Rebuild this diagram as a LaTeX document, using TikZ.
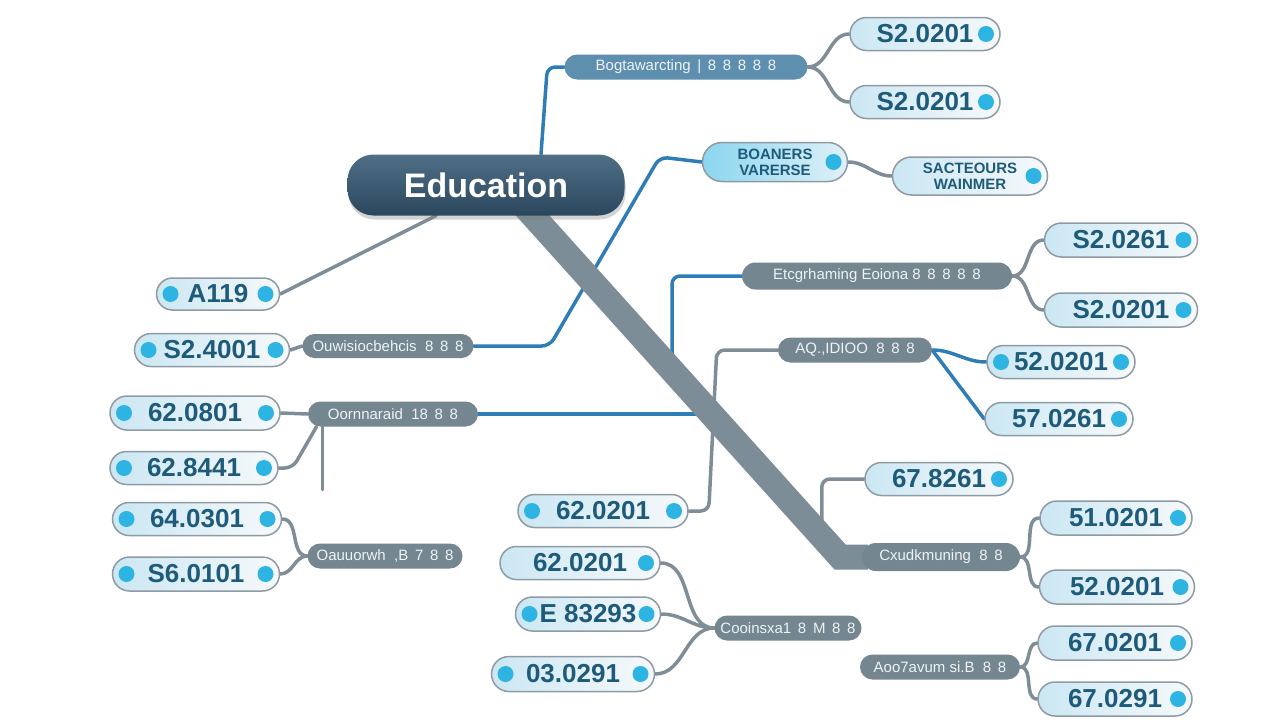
\documentclass[tikz,border=0pt]{standalone}
\usepackage{fontspec}
\setmainfont{Liberation Sans}
\usetikzlibrary{shapes.misc,shadows,backgrounds}
\definecolor{hubtop}{HTML}{4F6F86}
\definecolor{hubbot}{HTML}{2B475D}
\definecolor{twigc}{HTML}{74868F}
\definecolor{twigb}{HTML}{5E8FAF}
\definecolor{twigtext}{HTML}{EEF3F6}
\definecolor{leafl}{HTML}{CBE7F3}
\definecolor{leafr}{HTML}{F6F9FB}
\definecolor{leafedge}{HTML}{8E9BA4}
\definecolor{leaftext}{HTML}{1E5B7B}
\definecolor{dotc}{HTML}{2DB4E2}
\definecolor{linec}{HTML}{7F8D96}
\definecolor{bluec}{HTML}{2F7DB6}
\definecolor{barc}{HTML}{7C8D97}
\newcommand{\rdot}{\fill[dotc] ([xshift=-14pt]path picture bounding box.east) circle (8pt);}
\newcommand{\ldot}{\fill[dotc] ([xshift=14pt]path picture bounding box.west) circle (8pt);}

\begin{document}
\begin{tikzpicture}[x=1pt,y=-1pt,
  hub/.style={rounded corners=26pt,top color=hubtop,bottom color=hubbot,text=white,
    font=\fontsize{34}{34}\selectfont\bfseries,minimum width=277pt,minimum height=61pt,
    drop shadow={shadow xshift=1pt,shadow yshift=-4pt,opacity=.35}},
  twig/.style={rounded rectangle,fill=twigc,text=twigtext,font=\fontsize{15}{15}\selectfont,
    minimum height=25pt,inner sep=0pt},
  leaf/.style={rounded rectangle,draw=leafedge,line width=1.5pt,left color=leafl,right color=leafr,
    text=leaftext,font=\fontsize{26}{26}\selectfont\bfseries,minimum height=33pt,inner sep=0pt,
    path picture={\rdot}},
  leafb/.style={leaf,path picture={\rdot\ldot}},
  gline/.style={draw=linec,line width=3.5pt,rounded corners=8pt,line cap=round},
  bline/.style={draw=bluec,line width=3.5pt,rounded corners=8pt,line cap=round},
  bar/.style={draw=barc,line width=25pt}]
\useasboundingbox (0,0) rectangle (1280,720);
%
% hub and twigs
\node[hub] (e) at (486,185) {Education};
\node[twig,fill=twigb,minimum width=243pt] (b) at (686,67) {Bogtawarcting \,|\, 8 \,8 \,8 \,8 \,8};
\node[twig,minimum width=270pt,minimum height=27pt] (et) at (877,276) {Etcgrhaming Eoiona 8 \,8 \,8 \,8 \,8};
\node[twig,minimum width=154pt] (aq) at (855,350) {AQ.,IDIOO \ 8 \,8 \,8};
\node[twig,minimum width=171pt,minimum height=24pt] (cu) at (388,346) {Ouwisiocbehcis \ 8 \,8 \,8};
\node[twig,minimum width=170pt] (oo) at (393,414) {Oornnaraid \ 18 \,8 \,8};
\node[twig,minimum width=155pt] (oa) at (385,556) {Oauuorwh \ ,B \,7 \,8 \,8};
\node[twig,minimum width=147pt] (cn) at (788,628) {Cooinsxa1 \,8 \,M \,8 \,8};
\node[twig,minimum width=158pt,minimum height=28pt] (cx) at (941,557) {Cxudkmuning \ 8 \,8};
\node[twig,minimum width=160pt] (ao) at (940,667) {Aoo7avum si.B \ 8 \,8};
%
% leaves
\node[leaf,minimum width=150pt] (t1) at (925,34) {S2.0201};
\node[leaf,minimum width=150pt] (t2) at (925,102) {S2.0201};
\node[leaf,minimum width=145pt,minimum height=39pt,left color=dotc!55,right color=leafl!60,
  font=\fontsize{15}{16}\selectfont\bfseries,align=center] (bo) at (775,162) {BOANERS\\VARERSE};
\node[leaf,minimum width=155pt,minimum height=38pt,
  font=\fontsize{15}{16}\selectfont\bfseries,align=center] (sc) at (970,176) {SACTEOURS\\WAINMER};
\node[leaf,minimum width=153pt,minimum height=34pt] (e1) at (1121,240) {S2.0261};
\node[leaf,minimum width=153pt,minimum height=34pt] (e2) at (1121,310) {S2.0201};
\node[leafb,minimum width=148pt] (q1) at (1061,362) {52.0201};
\node[leaf,minimum width=148pt] (q2) at (1059,419) {57.0261};
\node[leaf,minimum width=148pt] (sv) at (939,479) {67.8261};
\node[leaf,minimum width=152pt,minimum height=34pt] (x1) at (1116,518) {51.0201};
\node[leaf,minimum width=155pt,minimum height=34pt] (x2) at (1117,587) {52.0201};
\node[leaf,minimum width=154pt,minimum height=34pt] (r1) at (1115,643) {67.0201};
\node[leaf,minimum width=154pt,minimum height=34pt] (r2) at (1115,699) {67.0291};
\node[leafb,minimum width=123pt,minimum height=32pt] (a1) at (218,294) {A119};
\node[leafb,minimum width=155pt] (s24) at (212,350) {S2.4001};
\node[leafb,minimum width=170pt,minimum height=34pt] (l1) at (195,413) {62.0801};
\node[leafb,minimum width=168pt] (l2) at (194,468) {62.8441};
\node[leafb,minimum width=169pt] (l3) at (197,519) {64.0301};
\node[leafb,minimum width=167pt,minimum height=34pt] (l4) at (196,574) {S6.0101};
\node[leafb,minimum width=170pt] (m0) at (603,511) {62.0201};
\node[leaf,minimum width=160pt] (m1) at (580,563) {62.0201};
\node[leafb,minimum width=145pt,minimum height=34pt] (m2) at (588,614) {E 83293};
\node[leafb,minimum width=163pt,minimum height=35pt] (m3) at (573,674) {03.0291};
%
% points on the bar
\coordinate (k0) at (516,197);
\coordinate (k1) at (672,362);
\coordinate (k2) at (705,414);
\coordinate (k4) at (840,557);
%
\begin{scope}[on background layer]
\draw[bline] ([xshift=55pt]e.north) -- ([xshift=-17pt]b.west) -- (b.west);
\draw[gline] (b.east) to[out=0,in=180] (t1.west);
\draw[gline] (b.east) to[out=0,in=180] (t2.west);
\draw[bline] (cu.east) -- ++(76,0) -- ++(110,-189) -- (bo.west);
\draw[gline] (bo.east) to[out=0,in=180] (sc.west);
\draw[bline] (k1) |- (et.west);
\draw[gline] (et.east) to[out=0,in=180] (e1.west);
\draw[gline] (et.east) to[out=0,in=180] (e2.west);
\draw[gline] (m0.east) -- ++(20,0) -- ++(8,-161) -- (aq.west);
\draw[bline] (aq.east) to[out=0,in=180] (q1.west);
\draw[bline] (aq.east) -- (q2.west);
\draw[bline] (oo.east) -- (k2);
\draw[gline] (l1.east) -- (oo.west);
\draw[gline] (l2.east) -- ++(14,0) -- ([xshift=-4pt]oo.south west);
\draw[gline] ([xshift=2pt]oo.south west) -- ++(0,63);
\draw[gline] (s24.east) -- (cu.west);
\draw[gline] (a1.east) -- ([xshift=-50pt]e.south);
\draw[gline] (l3.east) to[out=0,in=180] (oa.west);
\draw[gline] (l4.east) to[out=0,in=180] (oa.west);
\draw[gline] (m1.east) to[out=0,in=180] (cn.west);
\draw[gline] (m2.east) to[out=0,in=180] (cn.west);
\draw[gline] (m3.east) to[out=0,in=180] (cn.west);
\draw[gline] (sv.west) -| ([xshift=-40pt]cx.west) -- (cx.west);
\draw[gline] (cx.east) to[out=0,in=180] (x1.west);
\draw[gline] (cx.east) to[out=0,in=180] (x2.west);
\draw[gline] (ao.east) to[out=0,in=180] (r1.west);
\draw[gline] (ao.east) to[out=0,in=180] (r2.west);
\draw[bar] (k0) -- (k4) -- ([xshift=6pt]cx.west);
\end{scope}
\end{tikzpicture}
\end{document}
